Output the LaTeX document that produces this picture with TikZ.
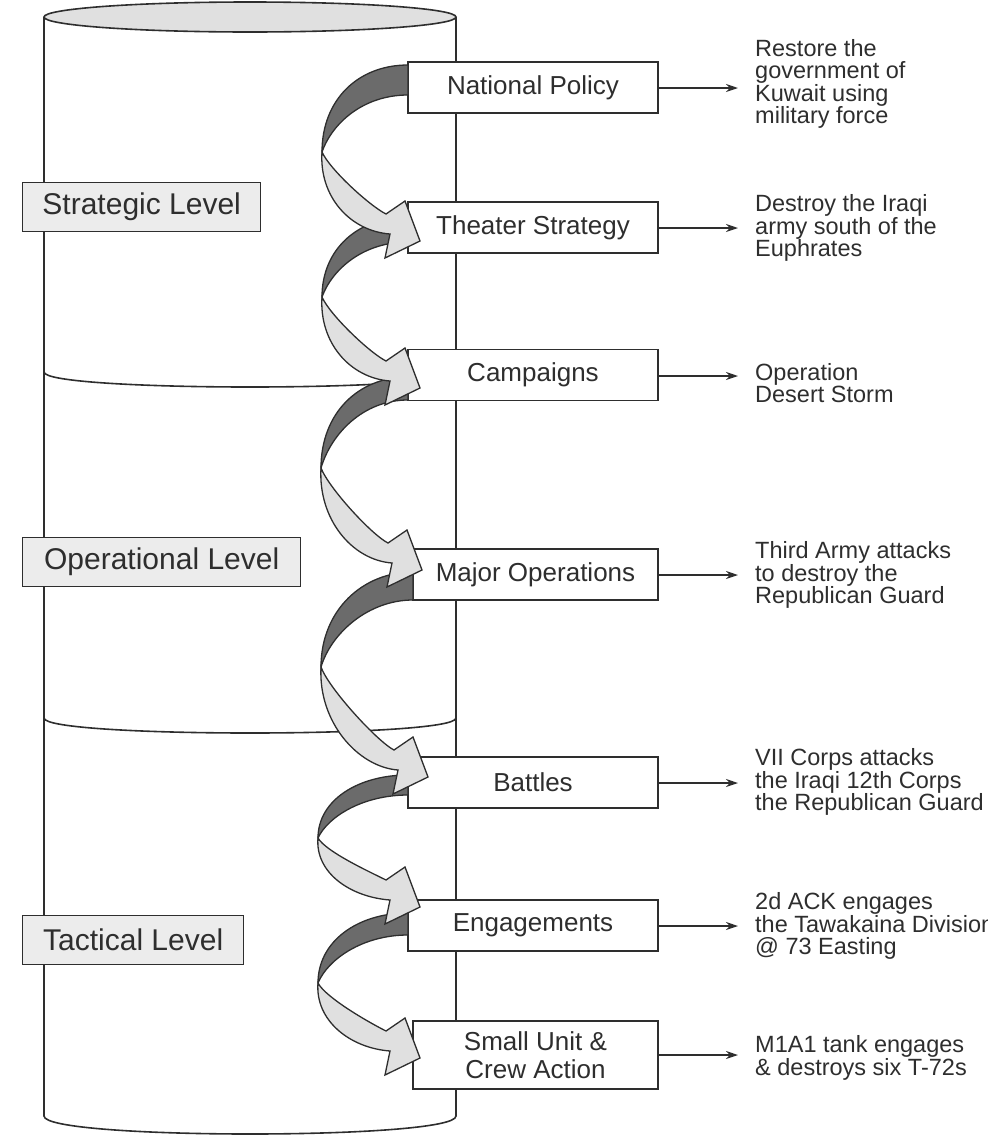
\documentclass[tikz,border=0pt]{standalone}
\usepackage{fontspec}
\setmainfont{Liberation Sans}
\usetikzlibrary{arrows.meta}
\definecolor{dk}{gray}{0.42}
\definecolor{lt}{gray}{0.88}
\definecolor{ln}{gray}{0.18}
\newcommand{\dband}[5]{%
  \filldraw[dk,draw=ln,line width=1.3pt] (#1,#2) .. controls ({#1-50},#2) and (#4,{#5-0.6*(#5-#2)}) .. (#4,#5)
    .. controls ({#4+10},{#5-0.5*(#5-#3)}) and ({#1-45},#3) .. (#1,#3) -- cycle;}
\newcommand{\lband}[4]{%
  \filldraw[lt,draw=ln,line width=1.3pt] (#1,#2) .. controls ({#1+8},{#2+0.2*(#4-#2)}) and ({#3-50},{#4-35}) .. ({#3-34},{#4-27})
    -- ({#3-15},{#4-40}) -- (#3,#4) -- ({#3-35},{#4+17}) -- ({#3-30},{#4-7})
    .. controls ({#3-70},{#4-10}) and ({#1-3},{#2+0.5*(#4-#2)}) .. (#1,#2) -- cycle;}
\begin{document}
\begin{tikzpicture}[x=1pt,y=-1pt,
  box/.style={draw=ln,line width=1.4pt,fill=white,minimum height=51pt,font=\fontsize{26}{29}\selectfont,text=ln},
  lvl/.style={draw=ln,line width=1.4pt,fill=gray!15,anchor=west,minimum height=49pt,font=\fontsize{30}{33}\selectfont,text=ln,inner xsep=11pt},
  note/.style={anchor=west,align=left,font=\fontsize{23.5}{22.5}\selectfont,text=ln,inner sep=0pt},
  arr/.style={-{Stealth[length=12pt,width=8pt]},line width=1.8pt,draw=ln}]
\useasboundingbox (0,0) rectangle (988,1141);
\clip (0,0) rectangle (988,1141);
% cylinder
\draw[ln,line width=1.6pt] (44,17) -- (44,1116) .. controls (44,1140) and (456,1140) .. (456,1116) -- (456,17);
\filldraw[fill=lt,draw=ln,line width=1.6pt] (250,17) ellipse [x radius=206, y radius=15];
\draw[ln,line width=1.6pt] (44,372) .. controls (44,392) and (456,392) .. (456,372);
\draw[ln,line width=1.6pt] (44,718) .. controls (44,738) and (456,738) .. (456,718);
% level labels
\node[lvl,minimum width=238pt] (s) at (22,207) {Strategic Level};
\node[lvl,minimum width=278pt] (o) at (22,562) {Operational Level};
\node[lvl,minimum width=221pt] (t) at (22,940) {Tactical Level};
% boxes
\node[box,minimum width=250pt] (b1) at (533,87.5) {National Policy};
\node[box,minimum width=250pt] (b2) at (533,227.5) {Theater Strategy};
\node[box,minimum width=250pt] (b3) at (533,375) {Campaigns};
\node[box,minimum width=245pt] (b4) at (535.5,574.5) {Major Operations};
\node[box,minimum width=250pt] (b5) at (533,782.5) {Battles};
\node[box,minimum width=250pt] (b6) at (533,925.5) {Engagements};
\node[box,minimum width=245pt,minimum height=68pt,align=center,font=\fontsize{26}{28}\selectfont] (b7) at (535.5,1055) {Small Unit \&\\Crew Action};
% spiral
\dband{408}{65}{95}{322}{152}
\dband{408}{217}{242}{322}{297}
\dband{408}{377}{400}{321}{468}
\dband{413}{572}{600}{321}{667}
\dband{408}{775}{795}{318}{838}
\dband{408}{913}{935}{318}{983}
\lband{322}{152}{420}{241}
\lband{322}{297}{420}{388}
\lband{321}{468}{422}{570}
\lband{321}{667}{428}{777}
\lband{318}{838}{420}{907}
\lband{318}{983}{420}{1058}
% notes
\node[note] (n1) at (755,84) {Restore the\\government of\\Kuwait using\\military force};
\node[note] (n2) at (755,228) {Destroy the Iraqi\\army south of the\\Euphrates};
\node[note] (n3) at (755,383) {Operation\\Desert Storm};
\node[note] (n4) at (755,575) {Third Army attacks\\to destroy the\\Republican Guard};
\node[note] (n5) at (755,782) {VII Corps attacks\\the Iraqi 12th Corps\\the Republican Guard};
\node[note] (n6) at (755,926) {2d ACK engages\\the Tawakaina Division\\@ 73 Easting};
\node[note] (n7) at (755,1058) {M1A1 tank engages\\\& destroys six T-72s};
\coordinate (e1) at (738,88);\coordinate (e2) at (738,228);\coordinate (e3) at (738,376);
\coordinate (e4) at (738,575);\coordinate (e5) at (738,783);\coordinate (e6) at (738,926);\coordinate (e7) at (738,1055);
\foreach \i in {1,...,7} \draw[arr] (b\i.east |- e\i) -- (e\i);
\end{tikzpicture}
\end{document}
